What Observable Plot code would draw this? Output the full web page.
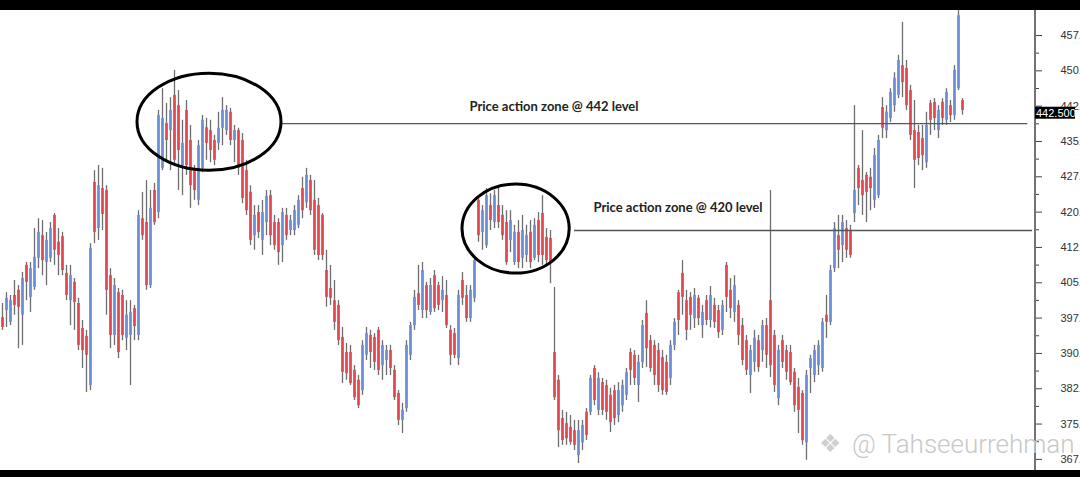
<!DOCTYPE html>
<html><head><meta charset="utf-8">
<script src="https://cdn.jsdelivr.net/npm/d3@7"></script>
<script src="https://cdn.jsdelivr.net/npm/@observablehq/plot@0.6"></script>
<style>
html,body{margin:0;padding:0;background:#000;width:1080px;height:477px;overflow:hidden;}
#chart{position:absolute;left:0;top:10px;width:1080px;height:460px;background:#fff;overflow:hidden;}
</style></head><body><div id="chart"></div>
<script>
// OHLC bars (price units)
const opens = [
397.6,399.1,396.6,402.3,403.4,398.1,408.7,401.9,404.0,410.2,
415.0,409.3,410.2,419.3,413.6,414.8,407.0,401.2,405.1,400.6,
395.3,393.6,383.2,426.3,416.5,425.0,424.6,406.5,393.8,402.9,
402.3,393.2,393.8,399.5,393.8,418.6,417.8,404.4,424.6,419.9,
429.3,438.8,437.3,444.8,442.6,429.9,441.6,435.2,428.8,422.5,
429.3,437.9,437.3,435.2,434.6,437.8,437.3,441.2,435.2,437.3,
435.2,428.8,424.2,415.0,419.9,414.0,417.8,423.5,417.8,417.8,
412.9,419.3,416.1,416.1,417.2,425.0,422.0,426.7,422.5,421.4,
419.3,407.6,403.8,401.2,400.2,393.4,390.2,390.2,386.4,384.3,
382.1,389.6,393.8,393.4,394.9,387.4,388.5,390.6,386.4,381.5,
375.8,378.3,389.6,395.9,402.7,399.1,404.4,398.7,406.5,404.4,
401.2,402.3,394.9,394.2,388.9,405.5,402.3,397.4,401.7,422.5,
415.7,412.9,421.4,417.8,421.4,419.3,417.8,414.0,409.3,415.7,
410.2,410.8,415.7,410.2,418.2,419.7,414.6,414.4,390.2,384.3,
376.2,375.1,374.3,373.6,368.3,371.0,377.5,377.5,386.8,377.9,
383.8,383.2,381.1,382.1,376.8,378.9,381.1,390.2,389.6,383.2,
388.1,398.5,392.7,391.7,390.6,389.1,388.1,384.7,391.7,402.9,
407.0,401.2,401.9,397.4,401.7,395.9,401.2,397.0,400.2,399.1,
394.9,408.7,403.4,398.7,400.2,395.9,392.7,385.3,388.1,392.7,
390.6,395.9,401.2,393.8,380.4,392.7,390.6,390.2,386.0,382.8,
381.5,371.0,386.8,385.3,387.4,386.8,398.1,396.6,408.0,415.0,
412.9,416.5,416.1,419.7,429.3,426.7,427.8,427.4,422.5,423.5,
442.2,437.3,439.9,442.6,444.8,451.1,450.5,445.8,437.3,436.9,
435.6,430.5,443.1,443.3,437.3,443.3,439.5,442.6,440.5,446.2,
443.7];
const highs = [
400.6,402.9,402.3,405.5,404.4,407.2,409.3,409.3,416.5,418.6,
418.2,415.7,417.8,419.7,416.5,415.7,408.7,408.7,405.9,401.7,
397.0,394.9,413.3,428.8,429.9,429.3,425.6,408.0,405.9,403.8,
403.4,401.2,401.2,400.2,420.3,424.2,426.7,424.6,426.1,441.6,
446.2,443.1,444.3,450.1,445.8,439.5,443.7,438.4,429.9,435.2,
440.5,439.9,439.5,436.3,441.2,444.3,442.6,442.0,438.4,437.8,
436.7,431.0,425.6,421.4,421.4,422.5,424.6,424.6,419.3,418.6,
420.8,420.8,419.3,421.4,423.5,427.4,429.3,427.8,426.7,422.9,
419.7,411.9,408.7,405.5,401.2,395.5,392.1,391.7,387.4,385.3,
392.7,395.5,394.9,394.2,395.5,392.7,391.7,391.7,387.4,382.1,
379.4,392.7,396.6,403.4,408.7,409.3,405.1,405.9,407.6,405.1,
406.3,405.5,395.9,395.3,403.4,407.2,404.4,404.4,410.8,423.5,
421.4,425.0,423.9,424.6,425.4,421.4,420.3,420.3,417.2,418.2,
419.3,417.2,418.2,418.6,419.9,423.5,416.5,416.1,404.0,385.3,
377.9,377.5,376.8,375.8,375.8,375.8,378.3,385.3,387.4,385.9,
384.7,384.3,382.6,383.2,383.8,384.3,386.8,391.0,390.6,389.6,
397.0,401.2,393.8,392.7,392.1,390.6,389.6,392.7,397.4,403.4,
409.7,403.4,402.9,403.8,402.3,400.2,402.3,404.2,401.7,400.2,
401.2,409.3,405.9,406.5,401.2,397.4,393.8,391.7,394.9,393.8,
397.0,397.4,424.6,394.9,391.7,393.8,391.7,391.7,386.8,384.7,
382.1,386.4,389.6,391.7,392.7,397.4,402.3,408.7,417.8,419.3,
419.3,418.2,417.2,442.6,429.9,437.3,428.4,429.3,433.5,436.3,
444.3,442.6,446.2,449.6,453.3,460.3,452.2,446.9,443.7,438.4,
438.4,441.2,443.7,444.1,442.6,444.1,446.2,443.7,451.1,462.8,
444.1];
const lows = [
394.9,395.5,395.9,398.1,391.0,391.7,401.2,398.7,403.4,408.0,
406.5,404.4,409.3,408.7,406.5,406.5,401.2,395.9,394.9,390.6,
386.8,381.7,382.1,413.3,414.0,416.1,398.1,391.0,391.7,388.9,
392.7,390.6,383.2,392.7,392.7,414.0,403.4,403.8,417.2,418.6,
428.8,431.0,428.8,429.9,424.6,423.5,427.8,420.8,422.5,421.4,
428.4,431.0,430.5,429.9,433.1,434.1,436.3,434.1,430.5,427.8,
421.8,419.3,412.9,411.9,414.4,410.8,415.0,412.9,411.9,408.7,
409.3,414.0,415.0,415.0,416.5,418.6,420.8,419.3,410.8,409.7,
409.7,399.8,400.2,394.9,391.7,383.6,384.3,383.2,380.0,378.3,
381.1,388.5,386.8,386.4,385.3,384.3,385.3,385.3,380.0,374.7,
373.0,377.5,388.5,394.9,399.1,397.4,397.4,398.1,398.7,399.1,
398.7,395.3,387.4,388.9,387.4,400.2,396.6,396.6,400.8,413.6,
411.9,412.3,416.1,416.5,416.5,414.0,408.7,411.4,408.7,408.0,
408.0,409.3,408.0,409.7,409.3,408.7,408.7,404.8,380.0,370.0,
370.5,370.5,370.5,369.4,366.6,369.4,371.5,376.8,378.9,376.8,
376.8,375.8,373.2,374.7,375.3,377.5,380.0,383.2,383.2,379.6,
386.8,387.0,386.0,383.2,381.7,381.1,381.1,383.2,390.6,393.8,
398.1,392.7,394.9,395.3,395.9,393.2,395.9,395.4,395.3,393.2,
393.8,398.7,397.4,396.6,391.7,387.4,385.3,381.5,386.0,386.0,
388.1,386.8,384.9,381.7,378.9,386.8,384.3,383.2,377.5,373.0,
370.5,367.3,381.5,383.8,385.3,386.0,393.2,395.9,407.2,408.0,
409.3,410.2,410.2,417.8,421.4,419.3,417.8,420.3,420.8,422.9,
435.6,435.6,439.0,441.2,444.1,444.3,441.6,435.2,425.0,429.9,
428.8,429.3,436.3,437.3,435.6,438.4,438.4,439.0,439.5,445.8,
440.6];
const closes = [
395.5,401.7,401.2,400.2,399.8,405.9,405.1,408.0,410.4,415.7,
409.7,414.0,416.5,411.9,410.8,407.6,402.3,406.5,400.8,391.7,
390.6,389.6,412.3,415.7,425.6,419.5,403.4,393.8,404.4,390.2,
393.8,398.1,398.7,395.7,419.3,415.0,404.4,420.8,417.8,440.5,
439.9,435.2,441.6,431.0,433.1,434.6,429.9,425.6,424.6,434.1,
439.5,434.6,433.1,431.0,437.8,441.6,441.6,435.2,437.3,429.3,
422.9,420.3,414.0,419.3,415.7,419.9,423.3,415.0,412.9,411.4,
419.9,415.0,418.2,420.3,422.5,420.3,427.8,420.3,411.9,410.8,
410.8,401.9,401.7,396.6,392.7,386.0,385.7,383.6,380.6,378.9,
391.7,394.2,390.2,388.1,386.4,391.7,390.6,386.8,380.6,375.8,
377.9,391.7,395.9,401.9,400.2,407.6,399.1,404.4,399.5,400.2,
403.4,395.9,389.6,389.6,402.3,401.7,397.4,403.4,409.7,415.0,
420.3,423.5,418.2,423.5,417.8,415.0,409.3,418.2,415.7,409.3,
416.1,415.0,409.3,417.2,410.8,410.8,409.7,409.3,380.6,373.6,
371.5,371.9,371.1,370.5,373.6,374.7,372.6,384.7,380.0,384.7,
377.9,377.5,375.3,376.2,382.1,383.2,385.9,386.4,384.7,388.1,
395.9,391.0,386.8,385.3,383.2,382.1,381.7,391.7,396.6,397.0,
401.9,394.9,398.1,402.3,397.4,398.7,397.0,402.3,396.6,394.4,
400.2,401.9,399.5,404.4,393.8,388.5,386.4,390.6,393.2,387.0,
395.9,389.6,387.4,383.2,390.6,388.1,386.0,383.8,378.9,377.9,
371.5,385.3,388.9,390.6,391.7,396.6,396.6,407.6,416.5,411.9,
417.8,411.9,410.8,424.6,425.0,423.5,424.2,425.0,432.0,435.2,
437.8,441.2,445.4,448.4,452.2,447.5,442.6,436.3,431.0,431.4,
432.0,438.4,439.5,439.9,441.6,439.9,445.4,440.5,450.1,461.7,
441.6];

// axis ticks (labels are cut off by the window edge, as in the picture)
const priceTicks = [367.5,375,382.5,390,397.5,405,412.5,420,427.5,435,442.5,450,457.5];
const minorTicks = [371.25,378.75,386.25,393.75,401.25,408.75,416.25,423.75,431.25,438.75,446.25,453.75];

// annotation values
const zoneLevels = [438.8, 416.1];
const zoneLabels = ["Price action zone @ 442 level", "Price action zone @ 420 level"];
const priceTagLevel = 441.0;
const priceTagText = "442.500";
const watermarkText = "@ Tahseeurrehman";

// annotation geometry (in bar index / price units)
const zoneGeom = [
  {from: 70, to: 256.3, labelAt: 116.75, labelLevel: 442.3},
  {from: 143, to: 257.5, labelAt: 147.75, labelLevel: 420.9}
];
const rings = [
  {cx: 51.75, cy: 439.1, rx: 18.0, ry: 10.3},
  {cx: 128.4, cy: 416.4, rx: 13.4, ry: 9.45}
];

const RED = "#e2474f", BLUE = "#6a8ed6";
const bars = opens.map((o, i) => ({i, open: o, high: highs[i], low: lows[i], close: closes[i]}));
const zones = zoneLevels.map((lv, k) => ({level: lv, label: zoneLabels[k], ...zoneGeom[k]}));

const chart = Plot.plot({
  width: 1080, height: 460,
  marginLeft: 0, marginRight: 45, marginTop: 0, marginBottom: 0,
  style: {background: "#fff", fontFamily: "'Liberation Sans', Arial, sans-serif", fontSize: "11px", overflow: "visible"},
  x: {domain: [-0.5, 258.25], axis: null},
  y: {domain: [365.14, 462.81]},
  marks: [
    Plot.ruleX(bars, {x: "i", y1: "low", y2: "high", stroke: "#6e6e6e", strokeWidth: 1.3}),
    Plot.ruleX(bars, {x: "i", y1: "open", y2: "close", stroke: d => d.close >= d.open ? BLUE : RED, strokeWidth: 2.7}),
    Plot.ruleY(zones, {y: "level", x1: "from", x2: "to", stroke: "#555", strokeWidth: 1.3}),
    (index, {x, y}) => {
      const g = d3.create("svg:g");
      for (const e of rings) {
        g.append("ellipse")
          .attr("cx", x(e.cx)).attr("cy", y(e.cy))
          .attr("rx", x(e.cx + e.rx) - x(e.cx)).attr("ry", y(e.cy - e.ry) - y(e.cy))
          .attr("fill", "none").attr("stroke", "#000").attr("stroke-width", 3);
      }
      return g.node();
    },
    Plot.text(zones, {x: "labelAt", y: "labelLevel", text: "label", textAnchor: "start", fontWeight: "bold", fontSize: 13, fontFamily: "Lato", fill: "#222"}),
    (index, scales, values, dims) => {
      const xa = dims.width - dims.marginRight;
      return d3.create("svg:line").attr("x1", xa).attr("x2", xa).attr("y1", 0).attr("y2", dims.height)
        .attr("stroke", "#444").attr("stroke-width", 1.5).node();
    },
    Plot.axisY(minorTicks, {anchor: "right", tickSize: 3, tickFormat: () => "", stroke: "#444"}),
    Plot.axisY(priceTicks, {anchor: "right", tickSize: 6, tickPadding: 19, tickFormat: d => d.toFixed(1), stroke: "#444", fill: "#333", fontSize: 11}),
    (index, {y}, values, dims) => {
      const g = d3.create("svg:g");
      const xa = dims.width - dims.marginRight;
      const cy = y(priceTagLevel);
      g.append("rect").attr("x", xa).attr("y", cy - 6).attr("width", 40).attr("height", 12).attr("fill", "#000");
      g.append("text").attr("x", xa + 1).attr("y", cy).attr("dy", "0.35em").attr("fill", "#fff")
        .attr("text-anchor", "start")
        .attr("font-size", 11).attr("font-family", "'Liberation Sans', Arial, sans-serif").text(priceTagText);
      return g.node();
    },
    (index, scales, values, dims) => {
      const g = d3.create("svg:g").attr("fill", "#c8c8c8").attr("text-anchor", "start");
      g.append("text").attr("x", 819).attr("y", dims.height - 18)
        .attr("font-family", "DejaVu Sans").attr("font-size", 25).attr("fill-opacity", 0.85).text("\u2756");
      g.append("text").attr("x", 852).attr("y", dims.height - 17)
        .attr("font-family", "Roboto").attr("font-weight", 300).attr("font-size", 26).text(watermarkText);
      return g.node();
    }
  ]
});
document.getElementById("chart").append(chart);
</script></body></html>
